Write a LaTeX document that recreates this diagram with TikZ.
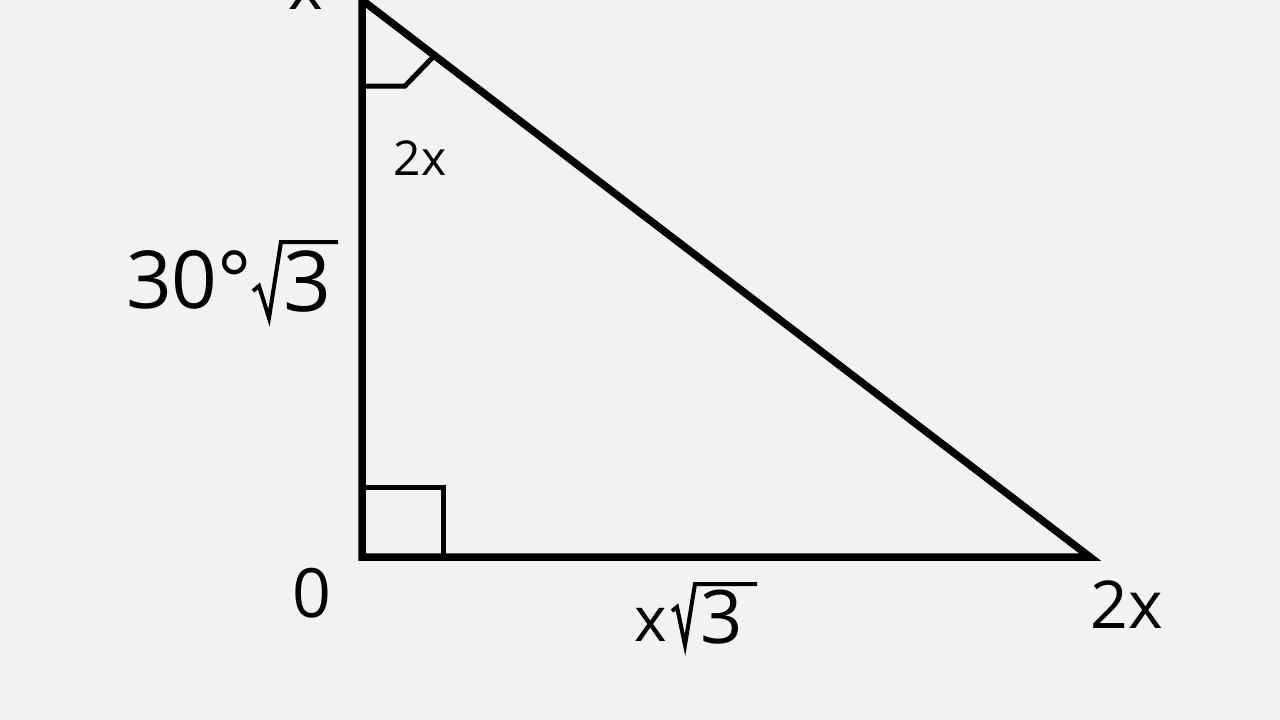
\documentclass[tikz,border=0pt]{standalone}
\usepackage{fontspec}
\setmainfont{Open Sans}
\begin{document}
\begin{tikzpicture}[x=1pt,y=-1pt,
  side/.style={line width=7.5pt,line join=miter},
  anglemark/.style={line width=5pt},
  radical/.style={line width=4pt,line join=miter},
  lbl/.style={inner sep=0pt,anchor=center}]
\fill[white!95!black] (0,0) rectangle (1280,720);
\useasboundingbox (0,0) rectangle (1280,720);
\begin{scope}
\clip (0,0) rectangle (1280,720);
\coordinate (A) at (362,0);
\coordinate (O) at (362,557);
\coordinate (B) at (1090,557);
\draw[side] (362,-10) -- (O) -- (B) -- (A) -- cycle;
\draw[anglemark] (362,487) -- (443,487) -- (443,557);
\draw[anglemark] (362,86) -- (405,86) -- (434,56);
\node[lbl] (tx) at (306,-8) {\fontsize{66}{70}\selectfont x};
\end{scope}
\node[lbl] (lb2x) at (420,158) {\fontsize{48}{52}\selectfont 2x};
% 30 deg sqrt 3
\node[lbl] (l30) at (189,280) {\fontsize{80}{86}\selectfont 30°};
\node[lbl] (l30r) at (308,281) {\fontsize{84}{90}\selectfont 3};
\draw[radical] (253,291) -- (259,286) -- (269,318) -- (281,242) -- (338,242);
% 0
\node[lbl] (l0) at (312,593) {\fontsize{68}{72}\selectfont 0};
% x sqrt 3
\node[lbl] (lx) at (651,625) {\fontsize{62}{66}\selectfont x};
\node[lbl] (lx3) at (722,617) {\fontsize{74}{80}\selectfont 3};
\draw[radical] (672,611) -- (677,607) -- (685,645) -- (695,584) -- (757,584);
% 2x
\node[lbl] (l2x) at (1127,605) {\fontsize{66}{70}\selectfont 2x};
\end{tikzpicture}
\end{document}
